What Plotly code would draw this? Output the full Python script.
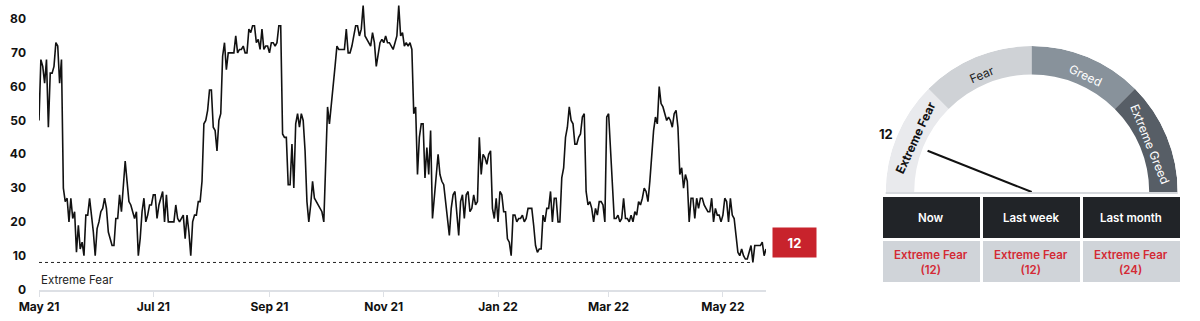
import math
import pandas as pd
import plotly.graph_objects as go

W, H = 1200, 321

# ---------------- data ----------------
start_date = "2021-05-01"
fng_may_jul21 = [50, 68, 66, 61, 68, 48, 64, 64, 66, 73,
                 72, 61, 68, 30, 26, 27, 20, 27, 21, 23,
                 11, 19, 12, 14, 10, 22, 22, 27, 22, 17,
                 10, 18, 20, 23, 24, 27, 24, 17, 15, 13,
                 13, 21, 21, 28, 23, 30, 38, 32, 26, 25,
                 23, 21, 23, 10, 15, 23, 27, 20, 22, 25,
                 25, 28, 28, 21, 25, 27, 29, 20, 28, 20,
                 20, 20, 20, 25, 21, 20, 21, 22, 15, 22]
fng_jul_oct21 = [17, 10, 20, 22, 22, 26, 26, 32, 49, 50,
                 53, 59, 59, 48, 47, 41, 50, 52, 69, 73,
                 65, 70, 70, 70, 70, 75, 70, 71, 71, 72,
                 70, 70, 77, 76, 78, 78, 73, 74, 71, 77,
                 71, 72, 72, 70, 73, 73, 72, 73, 78, 78,
                 46, 45, 45, 31, 31, 43, 30, 49, 52, 48,
                 52, 50, 41, 26, 20, 25, 32, 27, 26, 25,
                 24, 23, 20, 38, 54, 49, 54, 59, 66, 72]
fng_oct_dec21 = [71, 71, 71, 71, 77, 70, 70, 72, 75, 78,
                 78, 75, 77, 84, 75, 74, 73, 72, 76, 73,
                 66, 70, 73, 74, 73, 75, 73, 73, 72, 71,
                 73, 75, 84, 75, 76, 72, 73, 72, 73, 71,
                 52, 54, 34, 45, 49, 49, 33, 42, 34, 47,
                 21, 28, 33, 40, 34, 32, 31, 26, 20, 16,
                 24, 28, 29, 23, 16, 26, 28, 21, 28, 29,
                 23, 24, 28, 25, 26, 45, 34, 40, 39]
fng_dec21_mar22 = [37, 40, 41, 24, 21, 27, 20, 29, 28, 23,
                   23, 15, 14, 10, 22, 22, 20, 21, 21, 22,
                   20, 21, 24, 24, 24, 19, 13, 11, 12, 12,
                   22, 20, 24, 24, 29, 20, 27, 27, 20, 20,
                   33, 36, 45, 48, 54, 50, 49, 43, 43, 45,
                   46, 51, 52, 29, 25, 26, 24, 20, 24, 22,
                   26, 26, 25, 20, 51, 52, 42, 33, 21, 21,
                   22, 20, 21, 27, 21, 21, 20, 22, 20, 23]
fng_mar_may22 = [22, 26, 25, 27, 30, 29, 26, 32, 41, 47,
                 51, 49, 60, 55, 54, 52, 50, 51, 50, 48,
                 52, 53, 48, 34, 36, 30, 34, 32, 20, 27,
                 27, 21, 27, 24, 27, 27, 25, 24, 23, 23,
                 27, 20, 24, 22, 22, 20, 22, 27, 26, 20,
                 27, 22, 21, 16, 11, 10, 12, 10, 9, 9,
                 11, 13, 8, 13, 13, 13, 13, 14, 10, 12]
fng_values = fng_may_jul21 + fng_jul_oct21 + fng_oct_dec21 + fng_dec21_mar22 + fng_mar_may22
dates = pd.date_range(start_date, periods=len(fng_values), freq="D")

y_ticks = [0, 10, 20, 30, 40, 50, 60, 70, 80]
min_label = "Extreme Fear"

current_value = 12
zone_names = ["Extreme Fear", "Fear", "Greed", "Extreme Greed"]
zone_bounds = [0, 25, 50, 75, 100]
zone_colors = ["#e9eaed", "#cfd2d6", "#88929b", "#575e66"]
zone_text_colors = ["#111111", "#222222", "#ffffff", "#ffffff"]
zone_text_weights = [700, 400, 400, 400]
zone_label_angles = [155, 113, 65, 22]

table_periods = ["Now", "Last week", "Last month"]
table_classes = ["Extreme Fear", "Extreme Fear", "Extreme Fear"]
table_values = [12, 12, 24]

FONT = "Inter"

# ---------------- layout helpers (pixel -> paper) ----------------
def px(x):
    return x / W

def py(y):
    return (H - y) / H

PLOT_L, PLOT_R = 39, 766
Y0_PX, UNIT_PX = 289.5, 3.381
Y_MAX = 85

fig = go.Figure()

# ---------------- line chart ----------------
fig.add_trace(go.Scatter(
    x=dates, y=fng_values, mode="lines",
    line=dict(color="#111111", width=1.6),
    hoverinfo="skip", showlegend=False,
))

min_idx = min(range(len(fng_values)), key=lambda i: (fng_values[i], -i))
min_val = fng_values[min_idx]
fig.add_trace(go.Scatter(
    x=[dates[0], dates[min_idx]], y=[min_val, min_val], mode="lines",
    line=dict(color="#222222", width=1, dash="3px,3px"),
    hoverinfo="skip", showlegend=False,
))

fig.add_annotation(
    x=dates[0], y=min_val, xref="x", yref="y", text=min_label,
    showarrow=False, xanchor="left", yanchor="middle", yshift=-18,
    font=dict(family=FONT, size=11.5, color="#222222"),
)

fig.add_annotation(
    x=dates[-1], y=fng_values[-1], xref="x", yref="y",
    text=str(fng_values[-1]), showarrow=False,
    xanchor="left", yanchor="middle", xshift=6, yshift=6,
    bgcolor="#c8232c", width=41, height=27,
    font=dict(family=FONT, size=13, color="#ffffff", weight=700),
)

# ---------------- gauge ----------------
CX, CY = 1031.7, 192.0
R_OUT, R_IN = 146.0, 117.5

def val_to_theta(v):
    return 180.0 - v * 1.8

zone_theta = [val_to_theta((a + b) / 2) for a, b in zip(zone_bounds[:-1], zone_bounds[1:])]
zone_width = [(b - a) * 1.8 for a, b in zip(zone_bounds[:-1], zone_bounds[1:])]

fig.add_trace(go.Barpolar(
    r=[R_OUT - R_IN] * len(zone_names), base=[R_IN] * len(zone_names),
    theta=zone_theta, width=zone_width,
    marker=dict(color=zone_colors, line=dict(width=0)),
    hoverinfo="skip", showlegend=False, subplot="polar",
))

needle_theta = val_to_theta(current_value)
fig.add_trace(go.Scatterpolar(
    r=[0, 112], theta=[needle_theta, needle_theta], mode="lines",
    line=dict(color="#111111", width=2),
    hoverinfo="skip", showlegend=False, subplot="polar",
))

fig.update_layout(polar=dict(
    domain=dict(x=[px(CX - R_OUT), px(CX + R_OUT)], y=[py(CY), py(CY - R_OUT)]),
    sector=[0, 180],
    bgcolor="rgba(0,0,0,0)",
    radialaxis=dict(visible=False, range=[0, R_OUT]),
    angularaxis=dict(visible=False, rotation=0, direction="counterclockwise"),
    bargap=0,
))

for name, ang, col, wt in zip(zone_names, zone_label_angles, zone_text_colors, zone_text_weights):
    r_t = 128
    ax_ = CX + r_t * math.cos(math.radians(ang))
    ay_ = CY - r_t * math.sin(math.radians(ang))
    fig.add_annotation(
        x=px(ax_), y=py(ay_), xref="paper", yref="paper", text=name,
        showarrow=False, xanchor="center", yanchor="middle",
        textangle=90 - ang,
        font=dict(family=FONT, size=12, color=col, weight=wt),
    )

r_lbl = 157
fig.add_annotation(
    x=px(CX + r_lbl * math.cos(math.radians(needle_theta))),
    y=py(CY - r_lbl * math.sin(math.radians(needle_theta))),
    xref="paper", yref="paper", text=str(current_value), showarrow=False,
    xanchor="center", yanchor="middle",
    font=dict(family=FONT, size=13, color="#111111", weight=700),
)

fig.add_shape(type="line", xref="paper", yref="paper",
              x0=px(CX - R_OUT), x1=px(CX + R_OUT), y0=py(CY + 1), y1=py(CY + 1),
              line=dict(color="#d6d9dd", width=2))

# ---------------- table ----------------
TBL_L, TBL_R, TBL_T, ROW_H = 881, 1181, 195, 44
n_cols = len(table_periods)
fig.add_trace(go.Table(
    domain=dict(x=[px(TBL_L), px(TBL_R)], y=[py(TBL_T + 2 * ROW_H), py(TBL_T)]),
    columnwidth=[1] * n_cols,
    header=dict(
        values=[""] * n_cols, height=ROW_H,
        fill_color="#212428", line=dict(color="#ffffff", width=3),
    ),
    cells=dict(
        values=[[""] for _ in range(n_cols)], height=ROW_H,
        fill_color="#d0d4d9", line=dict(color="#ffffff", width=3),
    ),
))

col_w = (TBL_R - TBL_L) / n_cols
for i, (per, cls, val) in enumerate(zip(table_periods, table_classes, table_values)):
    cx = TBL_L + col_w * (i + 0.5)
    fig.add_annotation(
        x=px(cx), y=py(TBL_T + ROW_H / 2 + 0.5), xref="paper", yref="paper",
        text=per, showarrow=False, xanchor="center", yanchor="middle",
        font=dict(family=FONT, size=11.5, color="#ffffff", weight=600),
    )
    fig.add_annotation(
        x=px(cx), y=py(TBL_T + ROW_H * 1.5 + 1), xref="paper", yref="paper",
        text=f"{cls}<br>({val})", showarrow=False, xanchor="center", yanchor="middle",
        align="center",
        font=dict(family=FONT, size=11.5, color="#d42a35", weight=600),
    )

# ---------------- axes ----------------
fig.update_layout(
    width=W, height=H,
    margin=dict(l=0, r=0, t=0, b=0, autoexpand=False),
    paper_bgcolor="#ffffff", plot_bgcolor="#ffffff",
    showlegend=False,
    xaxis=dict(
        domain=[px(PLOT_L), px(PLOT_R)], automargin=False,
        range=[dates[0], dates[-1]], type="date",
        tick0=start_date, dtick="M2", tickformat="%b %y",
        showgrid=False, zeroline=False,
        showline=True, linecolor="#dde0e5", linewidth=2,
        ticks="outside", ticklen=5, tickcolor="#dde0e5", tickwidth=1,
        tickfont=dict(family=FONT, size=12, color="#111111", weight=700),
    ),
    yaxis=dict(
        domain=[py(Y0_PX), py(Y0_PX - Y_MAX * UNIT_PX)], automargin=False,
        range=[0, Y_MAX], tickvals=y_ticks,
        showgrid=False, zeroline=False, showline=False, ticks="",
        ticklabelstandoff=12,
        tickfont=dict(family=FONT, size=12, color="#111111", weight=700),
    ),
)

fig.write_html("out.html")
